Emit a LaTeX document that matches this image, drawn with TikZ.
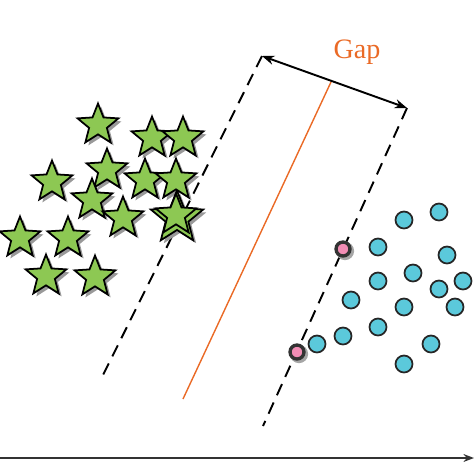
\documentclass[tikz,border=0pt]{standalone}
\usepackage{fontspec}
\setmainfont{Liberation Serif}
\usepackage{tikz}
\usetikzlibrary{shapes.geometric, arrows.meta}

\definecolor{stargreen}{HTML}{8DC853}
\definecolor{dotcyan}{HTML}{5BC9DB}
\definecolor{dotpink}{HTML}{F28DB5}
\definecolor{gaporange}{HTML}{EA6A26}

\tikzset{
	star node/.style={star, star points=5, star point ratio=2.3, minimum size=0.86cm, inner sep=0pt,
		draw=black, line width=1pt, fill=stargreen},
	star shade/.style={star node, draw=none, fill=black!40},
	dot node/.style={circle, minimum size=0.34cm, inner sep=0pt, draw=black!85, line width=1pt, fill=dotcyan},
	support dot/.style={circle, minimum size=0.28cm, inner sep=0pt, draw=black!80, line width=1.9pt, fill=dotpink},
	margin line/.style={dash pattern=on 7pt off 4.5pt, line width=1.1pt},
}

\begin{document}
\begin{tikzpicture}[x=0.02cm, y=-0.02cm]
			\useasboundingbox (0,0) rectangle (474,474);

			% margins and separating line
			\coordinate (left top) at (262,56);
			\coordinate (left bottom) at (103,375);
			\coordinate (right top) at (407,108);
			\coordinate (right bottom) at (263,426);
			\coordinate (sep top) at (331,82);
			\coordinate (sep bottom) at (183,399);

			\begin{scope}[margin line]
				\draw (left top) -- (left bottom);
				\draw (right top) -- (right bottom);
			\end{scope}

			\draw [gaporange, line width=0.8pt] (sep top) -- (sep bottom);

			\draw [{Stealth[length=7pt]}-{Stealth[length=7pt]}, line width=1.1pt] (left top) -- (right top);
			\node [gaporange, font=\fontsize{16}{18}\selectfont] (gap) at (357,52) {Gap};

			% stars
			\foreach \x/\y in {98/125, 152/138, 183/138, 52/182, 107/170, 145/180, 176/180, 92/200,
				123/218, 20/238, 68/238, 46/276, 95/277}
			{
				\node [star shade] at (\x+3,\y+3) {};
			}
			\node [star shade, minimum size=1.1cm] at (180,221) {};
			\node [star node, minimum size=1.1cm] (big star) at (177,218) {};
			\foreach \x/\y [count=\i] in {98/125, 152/138, 183/138, 52/182, 107/170, 145/180, 176/180, 92/200,
				123/218, 20/238, 68/238, 46/276, 95/277, 176/215}
			{
				\node [star node] (star-\i) at (\x,\y) {};
			}

			% circles
			\foreach \x/\y [count=\i] in {404/220, 439/212, 378/247, 447/255, 413/273, 378/281, 463/281,
				439/289, 351/300, 404/307, 455/307, 343/336, 378/327, 317/344, 431/344, 404/364}
			{
				\node [dot node] (dot-\i) at (\x,\y) {};
			}
			\node [support dot, draw=black!35, line width=2.4pt] at (345,251) {};
			\node [support dot, draw=black!35, line width=2.4pt] at (299,354) {};
			\node [support dot] (sv-1) at (343,249) {};
			\node [support dot] (sv-2) at (297,352) {};

			% axis
			\coordinate (axis start) at (0,458);
			\coordinate (axis end) at (474,458);
			\draw [-{Stealth[length=6pt]}, line width=1.3pt, black!80] (axis start) -- (axis end);
		\end{tikzpicture}
\end{document}
